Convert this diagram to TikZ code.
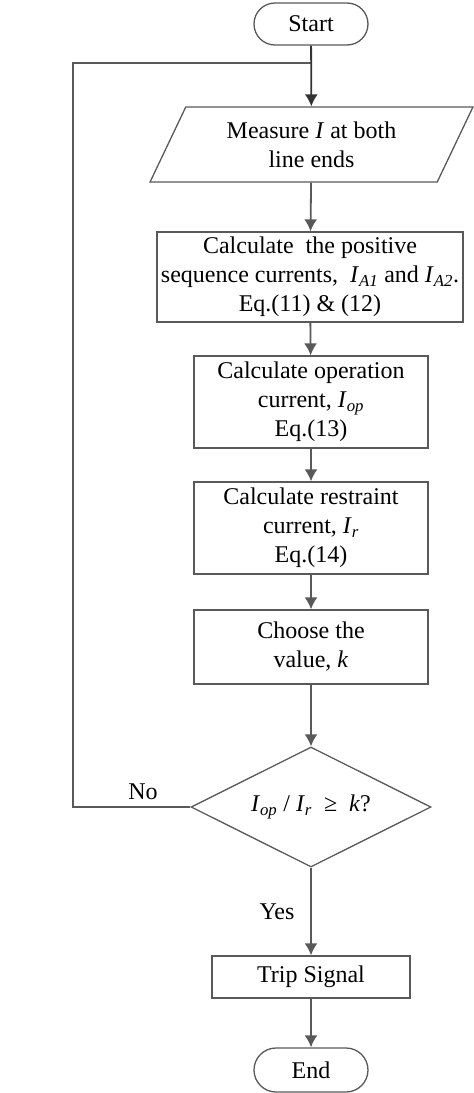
\documentclass[tikz,border=0pt]{standalone}
\usepackage{fontspec}
\setmainfont{Liberation Serif}
\usetikzlibrary{shapes.geometric,arrows.meta}
\tikzset{
  box/.style={draw=black!65, line width=1.3pt, align=center, inner sep=2pt},
  flow/.style={draw=black!65, line width=1.8pt, -{Latex[length=12pt,width=13pt]}},
}
\newcommand{\cur}[1]{\textit{I}\textsubscript{\textit{#1}}}
\begin{document}
\begin{tikzpicture}[x=1pt, y=-1pt, font=\fontsize{24}{29}\selectfont]
  \useasboundingbox (0,0) rectangle (474,1093);

  \node [box, rounded corners=21pt, minimum width=114pt, minimum height=42pt] (start) at (311,24) {Start};
  \node [box, trapezium, trapezium left angle=63.7, trapezium right angle=116.3, trapezium stretches=true,
         minimum width=323pt, minimum height=75pt] (measure) at (311.5,144.5) {Measure \textit{I} at both\\line ends};
  \node [box, minimum width=306pt, minimum height=90pt] (posseq) at (310,277)
        {Calculate \ the positive\\sequence currents, \ \cur{A1} and \cur{A2}.\\Eq.(11) \& (12)};
  \node [box, minimum width=234pt, minimum height=92pt] (oper) at (311,402)
        {Calculate operation\\current, \cur{op}\\Eq.(13)};
  \node [box, minimum width=234pt, minimum height=92pt] (restr) at (311,528)
        {Calculate restraint\\current, \cur{r}\\Eq.(14)};
  \node [box, minimum width=234pt, minimum height=74pt] (choose) at (311,647)
        {Choose the\\value, \textit{k}};
  \node [box, diamond, aspect=2, minimum width=240pt, minimum height=120pt, inner sep=0pt] (check) at (311,807)
        {\cur{op} / \cur{r} \ ≥ \ \textit{k}?};
  \node [box, minimum width=198pt, minimum height=42pt] (trip) at (311,977) {Trip Signal};
  \node [box, rounded corners=22pt, minimum width=114pt, minimum height=44pt] (end) at (311,1070) {End};

  \coordinate (loop) at (311,63);
  \draw [draw=black!65, line width=1.8pt] (check.west) -- (73,807) |- (loop);
  \node (no) at (143,792) {No};
  \node (yes) at (277,912) {Yes};

  \draw [flow, draw=black!80] (start) -- (measure);
  \draw [flow] (measure) -- (posseq);
  \draw [flow] (posseq) -- (oper);
  \draw [flow] (oper) -- (restr);
  \draw [flow] (restr) -- (choose);
  \draw [flow] (choose) -- (check);
  \draw [flow] (check) -- (trip);
  \draw [flow] (trip) -- (end);
\end{tikzpicture}
\end{document}
